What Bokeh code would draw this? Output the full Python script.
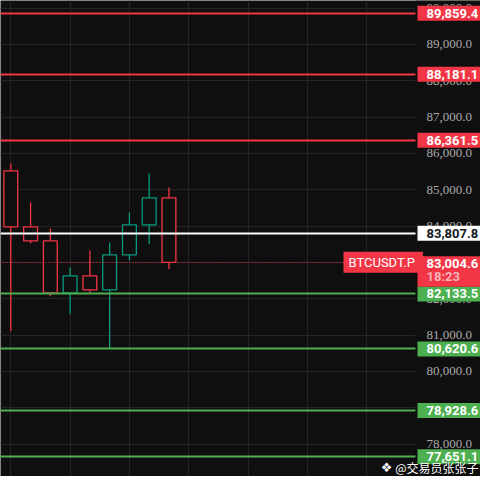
from bokeh.plotting import figure
from bokeh.models import (Label, LabelSet, FixedTicker, Grid, Range1d,
                          BoxAnnotation, ColumnDataSource)
from bokeh.embed import file_html
from bokeh.resources import INLINE

# ---- data ----
candle_idx = [0, 1, 2, 3, 4, 5, 6, 7, 8]
opens  = [85524, 83982, 83597, 82166, 82633, 82248, 83211, 84037, 84780]
highs  = [85725, 84651, 83935, 82862, 83330, 83550, 84376, 85449, 85064]
lows   = [81109, 83531, 82072, 81577, 82155, 80632, 83063, 83503, 82815]
closes = [83982, 83597, 82166, 82633, 82248, 83211, 84037, 84780, 83004.6]

resistance_levels = [89859.4, 88181.1, 86361.5]
pivot_levels = [83807.8]
support_levels = [82133.5, 80620.6, 78928.6, 77651.1]
last_price = 83004.6
countdown = "18:23"
symbol = "BTCUSDT.P"
price_ticks = [77000, 78000, 79000, 80000, 81000, 82000, 83000,
               84000, 85000, 86000, 87000, 88000, 89000, 90000]
time_grid = [0, 3, 6, 9, 12, 15, 18]
watermark = "@交易员张张子"

# ---- style ----
BG = "#0f0f0f"
GRID = "#242424"
RED = "#F23645"
TEAL = "#089981"
GREEN = "#4CAF50"
WHITE = "#FFFFFF"
AXIS_TXT = "#ABABAB"
FONT = "Roboto"

p = figure(width=480, height=476,
           x_range=Range1d(-0.521, 23.758), y_range=Range1d(77109, 90211),
           output_backend="svg", toolbar_location=None,
           x_axis_location=None, y_axis_location=None,
           background_fill_color=BG, border_fill_color=BG,
           min_border_left=0, min_border_right=0,
           min_border_top=0, min_border_bottom=0,
           outline_line_color=None)

# drop any default grids, then add our own
p.center = [r for r in p.center if not isinstance(r, Grid)]
p.add_layout(Grid(dimension=1, ticker=FixedTicker(ticks=price_ticks, minor_ticks=[]),
                  grid_line_color=GRID, grid_line_width=1))
p.add_layout(Grid(dimension=0, ticker=FixedTicker(ticks=time_grid, minor_ticks=[]),
                  grid_line_color=GRID, grid_line_width=1))

# ---- candles (hollow) ----
cols = [TEAL if c >= o else RED for o, c in zip(opens, closes)]
tops = [max(o, c) for o, c in zip(opens, closes)]
bots = [min(o, c) for o, c in zip(opens, closes)]
p.segment(x0=candle_idx, y0=highs, x1=candle_idx, y1=tops, color=cols, line_width=1.3)
p.segment(x0=candle_idx, y0=bots, x1=candle_idx, y1=lows, color=cols, line_width=1.3)
p.vbar(x=candle_idx, top=tops, bottom=bots, width=0.7, fill_color=BG,
       line_color=cols, line_width=1.3)

# ---- horizontal levels ----
p.hspan(y=resistance_levels, line_color=RED, line_width=2)
p.hspan(y=pivot_levels, line_color=WHITE, line_width=2)
p.hspan(y=support_levels, line_color=GREEN, line_width=2)
p.hspan(y=[last_price], line_color=RED, line_width=1.2, line_dash="1 2")

# ---- price scale area ----
p.add_layout(BoxAnnotation(left=415, left_units="screen", fill_color=BG, fill_alpha=1,
                           line_color=None))
tick_src = ColumnDataSource(dict(y=price_ticks, text=[f"{t:,.1f}" for t in price_ticks]))
p.add_layout(LabelSet(x=426, y="y", text="text", x_units="screen", source=tick_src,
                      text_font=FONT, text_font_size="13px", text_color=AXIS_TXT,
                      text_align="left", text_baseline="middle"))

def price_tag(v, bg, fg, pad_bottom=3):
    p.add_layout(Label(x=417, y=v, x_units="screen", y_units="data", text=f"{v:,.1f}",
                       text_font=FONT, text_font_size="13px", text_font_style="bold",
                       text_color=fg, text_align="left", text_baseline="middle",
                       background_fill_color=bg,
                       padding=dict(left=9, right=8, top=3, bottom=pad_bottom)))

for v in resistance_levels:
    price_tag(v, RED, WHITE)
for v in pivot_levels:
    price_tag(v, WHITE, "#131722")
for v in support_levels:
    price_tag(v, GREEN, WHITE)

# last price tag with countdown (countdown box first, price on top)
p.add_layout(Label(x=417, y=last_price, x_units="screen", y_units="data", y_offset=-14,
                   text=countdown, text_font=FONT, text_font_size="13px",
                   text_font_style="bold", text_color="#FAB3B9",
                   text_align="left", text_baseline="middle",
                   background_fill_color=RED,
                   padding=dict(left=9, right=40, top=3, bottom=3)))
price_tag(last_price, RED, WHITE, pad_bottom=0)
p.add_layout(Label(x=343, y=last_price, x_units="screen", y_units="data", text=symbol,
                   text_font=FONT, text_font_size="13px",
                   text_color=WHITE, text_align="left", text_baseline="middle",
                   background_fill_color=RED,
                   padding=dict(left=5, right=8, top=3, bottom=3)))

# watermark
for dx, col in [(1, "#000000"), (0, WHITE)]:
    p.add_layout(Label(x=478 + dx, y=9 - dx, x_units="screen", y_units="screen",
                       text=watermark, text_font="Noto Sans CJK SC", text_font_size="12px",
                       text_color=col, text_alpha=0.9 if dx else 1.0,
                       text_align="right", text_baseline="middle"))
    p.add_layout(Label(x=386 + dx, y=9 - dx, x_units="screen", y_units="screen", text="❖",
                       text_font="DejaVu Sans", text_font_size="13px",
                       text_color=col, text_align="center", text_baseline="middle"))

open("out.html", "w").write(file_html(p, INLINE))
